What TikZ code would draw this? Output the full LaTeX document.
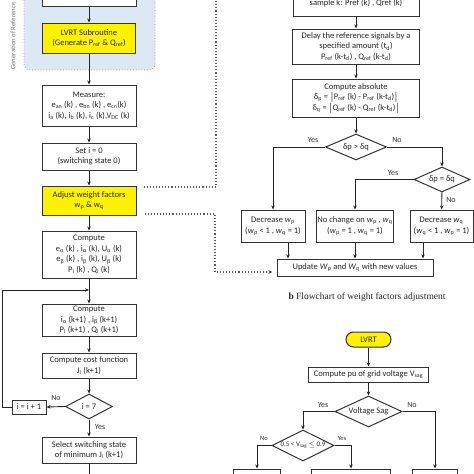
\documentclass[tikz,border=0pt]{standalone}
\usepackage{fontspec}
\setmainfont{Carlito}
\newfontfamily\capfont{Liberation Serif}
\usepackage{graphicx}
\usetikzlibrary{shapes.geometric,arrows.meta}

\definecolor{refblue}{RGB}{221,232,245}
\definecolor{refpink}{RGB}{228,120,145}

\newcommand{\sub}[1]{\textsubscript{#1}}
\newcommand{\wt}[2][w]{\textit{#1}\sub{#2}}
\newcommand{\vbar}{\raisebox{-0.25ex}{\scalebox{1}[1.35]{|}}}

\begin{document}
\begin{tikzpicture}[x=1pt,y=-1pt,
 box/.style={draw=black!80,line width=1pt,fill=white,text=black!85,align=center,
   inner sep=1pt,font=\fontsize{8.5}{10.5}\selectfont},
 ybox/.style={box,fill=yellow},
 decision/.style={box,diamond,aspect=2.2,inner sep=0pt},
 arr/.style={-{Stealth[length=4pt,width=3.5pt]},line width=0.9pt,black!85},
 lin/.style={line width=0.9pt,black!85},
 dotline/.style={line width=1.1pt,black!65,dotted},
 lab/.style={font=\fontsize{8}{9}\selectfont,text=black!80,inner sep=0pt}]

\useasboundingbox (0,0) rectangle (474,474);
\clip (0,0) rectangle (474,474);

% reference generation block
\draw[refpink,dotted,line width=0.8pt,fill=refblue,rounded corners=6pt]
  (24,-20) rectangle (155,70);
\node[rotate=90,anchor=west,inner sep=0pt,text=black!55,
  font=\fontsize{6.8}{8}\selectfont] (gentxt) at (13,70) {Generation of Reference};

% predictive control loop
\def\lx{89}
\node[box,minimum width=94pt,minimum height=32pt] (top0) at (\lx,-10) {};
\node[ybox,minimum width=93pt,minimum height=30pt] (lvrtsub) at (\lx,38)
  {LVRT Subroutine\\(Generate P\sub{ref}  \&  Q\sub{ref})};
\node[box,minimum width=94pt,minimum height=41pt] (measure) at (\lx,105.5)
  {Measure:\\e\sub{an} (k) , e\sub{bn} (k) , e\sub{cn}(k)\\
   i\sub{a} (k), i\sub{b} (k), i\sub{c} (k),V\sub{DC} (k)};
\node[box,minimum width=94pt,minimum height=27pt] (seti) at (\lx,156.5)
  {Set i = 0\\(switching state 0)};
\node[ybox,minimum width=94pt,minimum height=29pt] (adjust) at (\lx,200.5)
  {Adjust weight factors\\w\sub{p} \& w\sub{q}};
\node[box,minimum width=94pt,minimum height=47pt] (comp1) at (\lx,254.5)
  {Compute\\e\sub{α} (k) , i\sub{α} (k), U\sub{α} (k)\\
   e\sub{β} (k) , i\sub{β} (k), U\sub{β} (k)\\P\sub{i} (k) , Q\sub{i} (k)};
\node[box,minimum width=94pt,minimum height=32pt] (comp2) at (\lx,320)
  {Compute\\i\sub{α} (k+1) , i\sub{β} (k+1)\\P\sub{i} (k+1) , Q\sub{i} (k+1)};
\node[box,minimum width=94pt,minimum height=25pt] (cost) at (\lx,365.5)
  {Compute cost function\\J\sub{i} (k+1)};
\node[decision,minimum width=47pt,minimum height=25pt] (dec) at (\lx,406.5) {i = 7};
\node[box,minimum width=34pt,minimum height=14pt] (incr) at (29,407) {i = i + 1};
\node[box,minimum width=94pt,minimum height=26pt] (select) at (\lx,450)
  {Select switching state\\of minimum J\sub{i} (k+1)};
\coordinate (join) at (\lx,290);

\draw[arr] (top0) -- (lvrtsub);
\draw[arr] (lvrtsub) -- (measure);
\draw[arr] (measure) -- (seti);
\draw[arr] (seti) -- (adjust);
\draw[arr] (adjust) -- (comp1);
\draw[arr] (comp1) -- (comp2);
\draw[arr] (comp2) -- (cost);
\draw[arr] (cost) -- (dec);
\draw[arr] (dec) -- (select);
\draw[arr] (dec.west) -- (incr.east);
\draw[arr] (incr.west) -- ++(-9,0) |- (join);
\draw[lin] (select.south) -- ++(0,20);
\node[lab] (no0) at (56,398) {No};
\node[lab] (yes0) at (100,427) {Yes};

% links to the weight factor chart
\coordinate (dtop) at (216,-5);
\draw[dotline] ([shift={(7,-13.5)}]adjust.east) -| (dtop);

% weight factors adjustment
\def\rx{356}
\node[box,minimum width=126pt,minimum height=30pt] (sample) at (\rx,1)
  {\mbox{}\\sample k: Pref  (k) , Qref (k)};
\node[box,minimum width=127pt,minimum height=35pt] (delay) at (\rx,46.5)
  {Delay the reference signals by a\\specified amount (t\sub{d})\\
   P\sub{ref} (k-t\sub{d}) , Q\sub{ref} (k-t\sub{d})};
\node[box,minimum width=127pt,minimum height=38pt] (absol) at (\rx,98)
  {Compute absolute\\
   δ\sub{p} = \vbar P\sub{ref} (k) - P\sub{ref} (k-t\sub{d})\vbar\\
   δ\sub{q} = \vbar Q\sub{ref} (k) - Q\sub{ref} (k-t\sub{d})\vbar};
\node[decision,minimum width=61pt,minimum height=26pt] (d1) at (\rx,147) {δp > δq};
\node[decision,minimum width=56pt,minimum height=25pt] (d2) at (442,179.5) {δp = δq};
\node[box,minimum width=64pt,minimum height=32pt] (dwp) at (273,226)
  {Decrease \wt{p}\\(\wt{p} < 1 , \wt{q} = 1)};
\node[box,minimum width=75pt,minimum height=32pt] (nch) at (355,226)
  {No change on \wt{p} , \wt{q}\\(\wt{p} = 1 , \wt{q} = 1)};
\node[box,minimum width=63pt,minimum height=32pt] (dwq) at (441.5,226)
  {Decrease \wt{q}\\(\wt{q} < 1 , \wt{p} = 1)};
\node[box,minimum width=156pt,minimum height=17pt] (update) at (355,267.5)
  {Update \wt[W]{p} and \wt[W]{q} with new values};
\coordinate (u1) at ([xshift=15pt]dwp.south);
\coordinate (u3) at ([xshift=-18.5pt]dwq.south);

\draw[arr] (sample) -- (delay);
\draw[arr] (delay) -- (absol);
\draw[arr] (absol) -- (d1);
\draw[arr] (d1.west) -| (dwp.north);
\draw[arr] (d1.east) -| (d2.north);
\draw[arr] (d2.west) -| (nch.north);
\draw[arr] (d2) -- (dwq);
\draw[arr] (u1) -- (u1 |- update.north);
\draw[arr] (nch) -- (update);
\draw[arr] (u3) -- (u3 |- update.north);
\node[lab] (yes1) at (313,140) {Yes};
\node[lab] (no1) at (397,140) {No};
\node[lab] (yes2) at (393,173) {Yes};
\node[lab] (no2) at (451,200) {No};

\draw[dotline,-{Stealth[length=4pt,width=3.5pt]}]
  ([shift={(8,13.5)}]adjust.east) -| (215,272) -- ([shift={(-4,4.5)}]update.west);

\node[font=\capfont\fontsize{9.5}{11}\selectfont,text=black!85] (capb) at (367,297)
  {\textbf{b} Flowchart of weight factors adjustment};

% LVRT subroutine
\node[ybox,rounded corners=7.5pt,minimum width=45pt,minimum height=15pt] (lvrt)
  at (368.5,339.5) {LVRT};
\node[box,minimum width=120pt,minimum height=15pt] (vcomp) at (368.5,374.5)
  {Compute pu of grid voltage V\sub{sag}};
\node[decision,minimum width=67pt,minimum height=31pt] (d3) at (368.5,411.5)
  {Voltage Sag};
\node[decision,aspect=2,minimum width=62pt,minimum height=31pt,
  font=\fontsize{7}{8}\selectfont] (d4) at (303,445.5)
  {0.5 < V\sub{sag} $\le$ 0.9};
\node[box,minimum width=47pt,minimum height=25pt] (fa) at (257,481.5) {};
\node[box,minimum width=79pt,minimum height=25pt] (fb) at (351,481.5) {};
\node[box,minimum width=45pt,minimum height=25pt] (fc) at (435,481.5) {};

\draw[arr] (lvrt) -- (vcomp);
\draw[arr] (vcomp) -- (d3);
\draw[arr] (d3.west) -| (d4.north);
\draw[arr] (d3.east) -| (fc.north);
\draw[arr] (d4.west) -| (fa.north);
\draw[arr] (d4.east) -| (fb.north);
\node[lab] (yes3) at (323,405) {Yes};
\node[lab] (no3) at (412,405) {No};
\node[lab,font=\fontsize{6.5}{8}\selectfont] (no4) at (264,438) {No};
\node[lab,font=\fontsize{6.5}{8}\selectfont] (yes4) at (342,438) {Yes};

\end{tikzpicture}
\end{document}
